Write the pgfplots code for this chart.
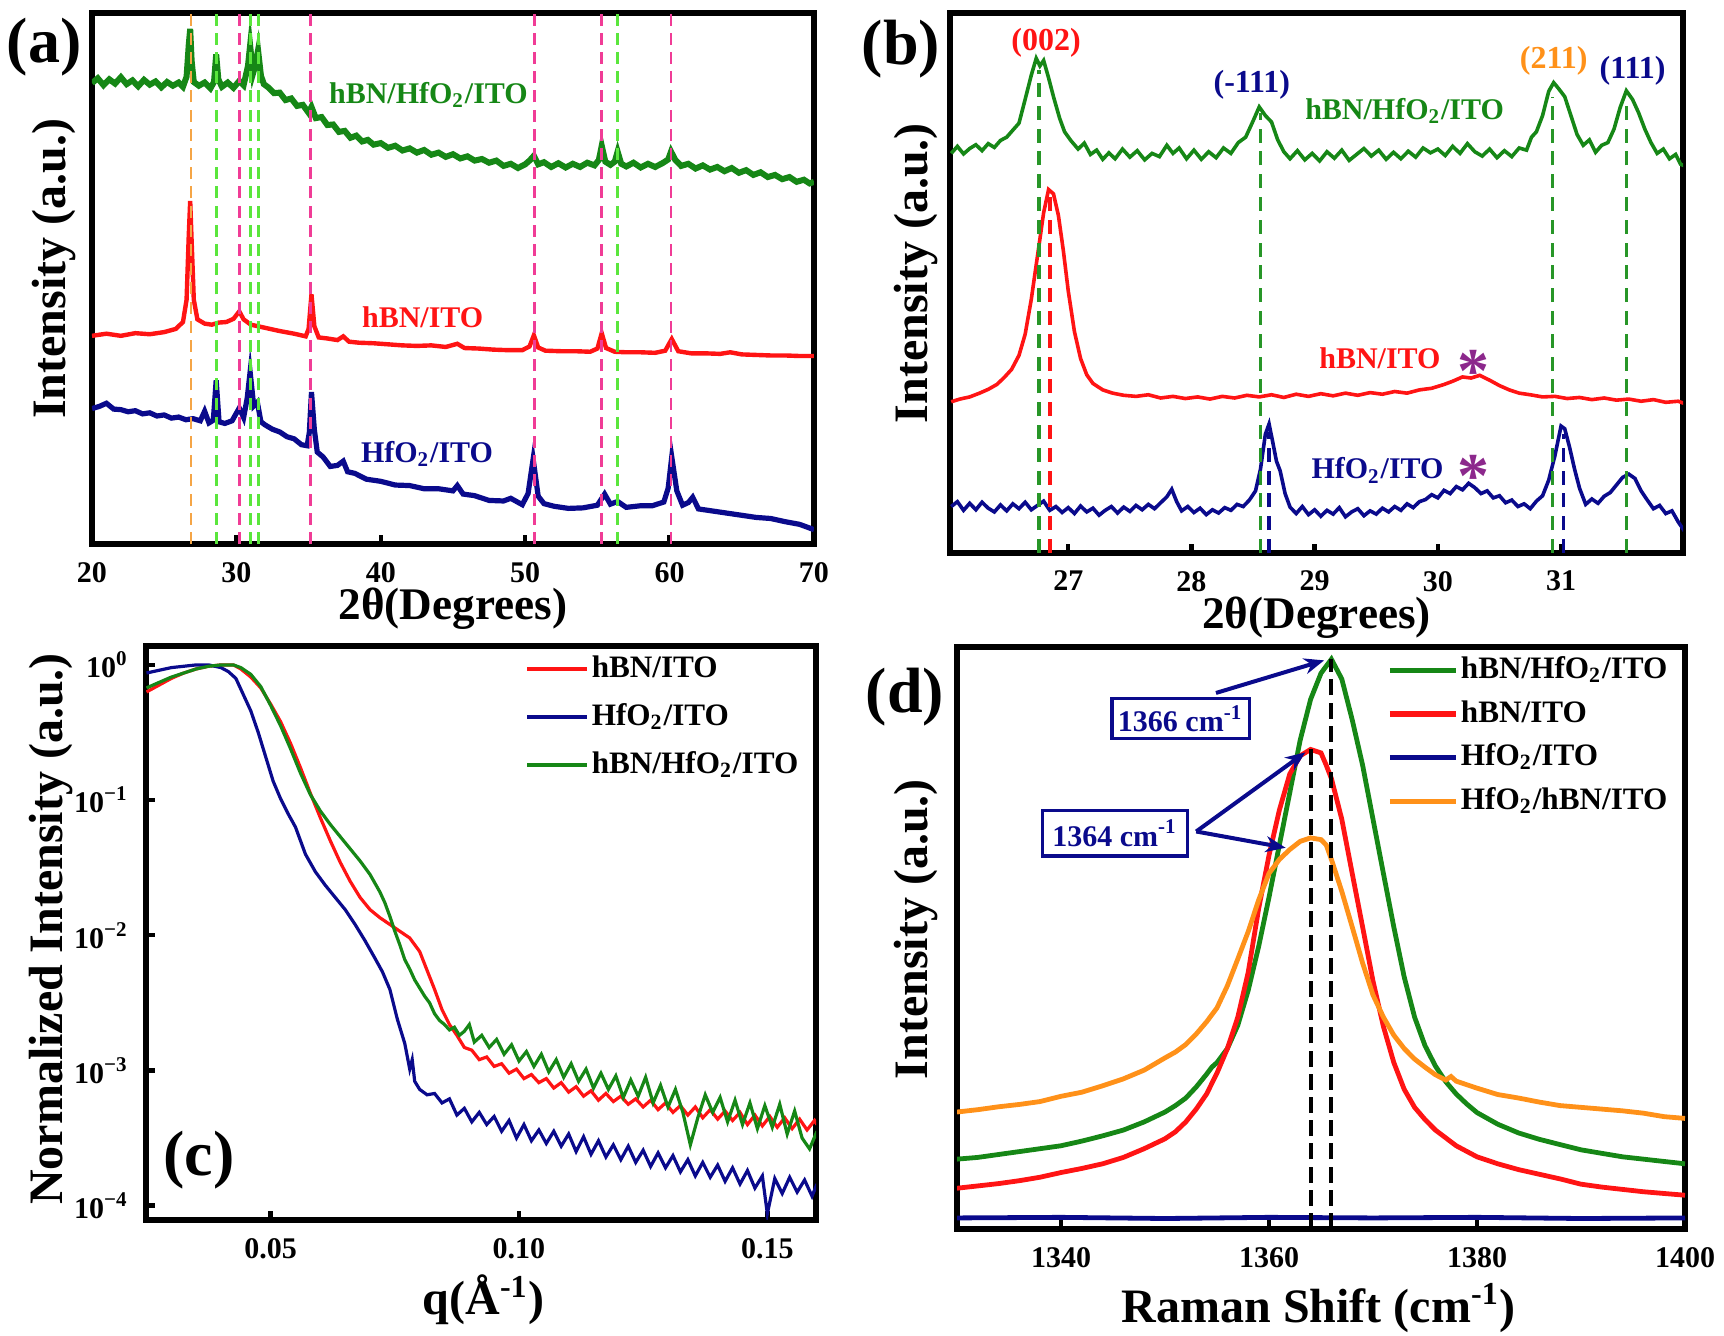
\documentclass[border=0pt]{standalone}
\usepackage{fontspec}
\setmainfont{Liberation Serif}
\usepackage{pgfplots}
\pgfplotsset{compat=1.18}
\usetikzlibrary{arrows.meta}

\definecolor{cgreen}{RGB}{22,135,22}
\definecolor{cred}{RGB}{255,20,20}
\definecolor{cnavy}{RGB}{10,10,140}
\definecolor{corange}{RGB}{255,145,25}
\definecolor{dorange}{RGB}{245,165,70}
\definecolor{dlime}{RGB}{90,230,60}
\definecolor{dpink}{RGB}{240,60,150}
\definecolor{dgreen}{RGB}{40,150,40}
\definecolor{cpurple}{RGB}{140,40,140}

\newcommand\anno{\bfseries\fontsize{7.5}{9}\selectfont}
\newcommand\hkl{\bfseries\fontsize{8}{9}\selectfont}
\newcommand\plab{\bfseries\fontsize{16}{18}\selectfont}

\pgfplotsset{
  panel/.style={
    scale only axis,
    anchor=south west,
    axis line style={line width=1.4pt},
    every tick/.style={black, line width=1.1pt},
    major tick length=2.2pt,
    tick align=inside,
    xtick pos=bottom, ytick pos=left,
    enlargelimits=false,
    tick label style={font=\bfseries\fontsize{7.5}{9}\selectfont},
    xticklabel style={yshift=-1pt},
    label style={font=\bfseries\fontsize{12}{14}\selectfont},
    /pgf/number format/assume math mode=true,
    /pgf/number format/set thousands separator={},
  },
  vline/.style={forget plot, line width=0.7pt, dash pattern=on 3pt off 1.8pt},
}

\begin{document}
\begin{tikzpicture}
\path[use as bounding box] (0,0) rectangle (431pt,334pt);

% ---------------- (a) XRD wide scan ----------------
\begin{axis}[panel, at={(23pt,198pt)}, width=180.5pt, height=132.75pt,
  xmin=20, xmax=70, ymin=0, ymax=100,
  xtick={20,30,...,70}, ytick=\empty,
  xlabel={2θ(Degrees)}, ylabel={Intensity (a.u.)},
  xlabel style={font=\bfseries\fontsize{11.3}{13}\selectfont, at={(axis description cs:0.5,-0.122)}, anchor=center},
  ylabel style={at={(axis description cs:-0.052,0.518)}, anchor=center}]
\addplot[cgreen, line width=1.5pt] table {
20.0 86.8
20.4 87.7
20.8 86.4
21.2 87.5
21.6 86.7
22.0 87.9
22.4 86.6
22.8 87.3
23.2 86.2
23.6 87.4
24.0 86.5
24.4 87.1
24.8 86.0
25.2 87.0
25.6 86.3
26.0 86.9
26.3 86.1
26.55 88.0
26.7 94.0
26.8 97.0
26.9 91.0
27.05 87.0
27.4 86.3
27.8 86.9
28.2 85.8
28.45 87.0
28.6 92.2
28.75 87.5
29.0 86.1
29.4 86.9
29.8 85.9
30.2 87.2
30.5 86.4
30.8 90.0
30.95 93.9
31.15 88.6
31.3 90.0
31.5 93.0
31.7 88.2
31.9 86.6
32.2 86.0
32.6 84.9
33.0 85.0
33.4 83.6
33.8 83.9
34.2 82.5
34.6 82.7
35.0 81.2
35.2 82.3
35.5 80.2
35.9 80.4
36.3 78.9
36.7 79.0
37.1 77.6
37.5 77.8
37.9 76.5
38.3 76.9
38.7 75.8
39.1 76.1
39.5 75.2
40.0 75.5
40.5 74.6
41.0 75.0
41.5 74.1
42.0 74.5
42.5 73.7
43.0 74.2
43.5 73.3
44.0 73.7
44.5 72.9
45.0 73.4
45.5 72.6
46.0 73.0
46.5 72.2
47.0 72.5
47.5 71.8
48.0 72.2
48.5 71.2
49.0 71.6
49.5 70.8
50.0 71.5
50.3 72.2
50.6 73.1
50.9 71.5
51.3 71.9
51.8 71.0
52.3 71.7
52.8 70.9
53.3 71.6
53.8 71.0
54.3 71.8
54.8 71.3
55.1 72.3
55.3 75.0
55.55 72.0
55.9 71.4
56.2 72.0
56.4 73.9
56.65 71.6
57.0 71.1
57.5 71.8
58.0 70.9
58.5 71.6
59.0 71.0
59.5 71.7
59.9 72.4
60.1 73.9
60.4 72.3
60.8 71.2
61.3 71.6
61.8 70.7
62.3 71.3
62.8 70.5
63.3 71.0
63.8 70.2
64.3 70.8
64.8 69.9
65.3 70.4
65.8 69.5
66.3 70.0
66.8 69.1
67.3 69.5
67.8 68.7
68.3 69.1
68.8 68.2
69.3 68.6
69.7 67.9
70.0 68.2
};
\addplot[cred, line width=1.1pt] table {
20.0 39.2
21.0 39.6
22.0 39.2
23.0 39.7
24.0 39.5
25.0 39.9
25.8 40.5
26.3 41.8
26.55 46.0
26.7 58.0
26.8 64.6
26.9 57.0
27.05 46.0
27.3 42.3
27.8 41.5
28.3 41.3
28.8 41.7
29.3 41.8
29.8 42.4
30.2 43.8
30.5 42.3
31.0 41.3
31.5 41.0
32.0 40.7
33.0 40.1
34.0 39.6
34.8 39.1
35.0 40.5
35.2 47.0
35.4 41.0
35.7 38.9
36.3 38.7
37.0 38.4
37.4 39.1
37.8 38.1
38.5 37.9
39.5 37.8
40.5 37.6
41.5 37.4
42.5 37.3
43.5 37.4
44.5 37.1
45.3 37.7
45.8 36.9
46.8 36.8
47.8 36.6
48.8 36.5
49.8 36.5
50.3 37.2
50.6 39.3
50.9 37.0
51.4 36.4
52.5 36.3
53.5 36.3
54.5 36.2
55.0 36.8
55.3 39.7
55.6 36.9
56.2 36.2
57.0 36.1
58.0 36.1
59.0 36.0
59.7 36.4
60.15 38.6
60.6 36.3
61.5 35.9
62.5 35.9
63.5 35.8
64.2 36.1
65.0 35.7
66.0 35.6
67.0 35.5
68.0 35.5
69.0 35.4
70.0 35.4
};
\addplot[cnavy, line width=1.3pt] table {
20.0 25.5
20.5 25.9
21.0 26.5
21.5 25.4
22.0 25.3
22.5 24.9
23.0 25.1
23.5 24.5
24.0 24.7
24.5 24.1
25.0 24.3
25.5 23.7
26.0 23.9
26.5 23.4
27.0 23.6
27.5 23.2
27.8 25.0
28.1 22.8
28.4 23.3
28.6 30.8
28.8 23.0
29.2 22.7
29.7 23.2
30.2 25.6
30.5 23.8
30.75 27.5
30.95 32.4
31.2 26.0
31.45 26.7
31.7 23.0
32.0 22.4
32.5 21.6
33.0 21.1
33.5 20.2
34.0 19.8
34.5 18.7
34.9 18.5
35.05 21.0
35.2 28.6
35.4 21.5
35.6 17.3
36.0 16.4
36.5 14.6
37.0 14.8
37.4 15.6
37.7 13.6
38.2 13.3
39.0 12.2
40.0 11.8
41.0 11.1
42.0 11.0
43.0 10.4
44.0 10.4
45.0 10.0
45.3 11.0
45.7 9.4
46.5 9.1
47.5 8.2
48.5 8.1
49.0 8.6
49.8 7.4
50.2 9.5
50.55 16.0
50.9 9.0
51.3 7.6
52.0 7.1
53.0 6.7
54.0 6.8
55.0 7.3
55.5 9.4
55.9 7.5
56.4 8.0
57.0 6.9
58.0 7.2
58.8 7.2
59.6 7.9
59.9 10.5
60.15 16.4
60.5 10.0
60.9 7.3
61.3 7.8
61.6 8.8
62.0 6.6
63.0 6.2
64.0 5.8
65.0 5.4
66.0 5.0
67.0 4.8
68.0 4.2
69.0 3.7
70.0 2.7
};
% reference peak positions
\addplot[vline, dorange] coordinates {(26.85,0) (26.85,100)};
\addplot[vline, dlime] coordinates {(28.6,0) (28.6,100)};
\addplot[vline, dlime] coordinates {(31.0,0) (31.0,100)};
\addplot[vline, dlime] coordinates {(31.55,0) (31.55,100)};
\addplot[vline, dlime] coordinates {(56.4,0) (56.4,100)};
\addplot[vline, dpink] coordinates {(30.2,0) (30.2,100)};
\addplot[vline, dpink] coordinates {(35.15,0) (35.15,100)};
\addplot[vline, dpink] coordinates {(50.65,0) (50.65,100)};
\addplot[vline, dpink] coordinates {(55.3,0) (55.3,100)};
\addplot[vline, dpink] coordinates {(60.1,0) (60.1,100)};
\node[font=\anno, text=cgreen] at (axis cs:43.3,84.6) {hBN/HfO\textsubscript{2}/ITO};
\node[font=\anno, text=cred] at (axis cs:42.9,42.7) {hBN/ITO};
\node[font=\anno, text=cnavy] at (axis cs:43.2,16.9) {HfO\textsubscript{2}/ITO};
\end{axis}

% ---------------- (b) XRD zoom ----------------
\begin{axis}[panel, at={(237.5pt,195.75pt)}, width=183.25pt, height=135pt,
  xmin=26.04, xmax=31.99, ymin=0, ymax=100,
  xtick={27,28,...,31}, ytick=\empty,
  xlabel={2θ(Degrees)}, ylabel={Intensity (a.u.)},
  xlabel style={font=\bfseries\fontsize{11.3}{13}\selectfont, at={(axis description cs:0.5,-0.12)}, anchor=center},
  ylabel style={at={(axis description cs:-0.046,0.518)}, anchor=center}]
\addplot[cgreen, line width=0.9pt] table {
26.05 74.0
26.10 75.3
26.15 73.9
26.20 74.9
26.25 75.6
26.30 74.5
26.35 75.8
26.40 75.1
26.45 76.4
26.50 77.0
26.55 78.3
26.60 79.6
26.65 84.0
26.70 88.5
26.74 91.6
26.77 90.2
26.80 91.2
26.84 88.0
26.88 84.5
26.93 80.5
26.97 78.0
27.02 76.4
27.08 74.8
27.13 75.9
27.18 73.8
27.23 74.6
27.28 72.9
27.33 74.1
27.38 73.0
27.44 74.8
27.50 73.3
27.56 74.5
27.62 72.8
27.68 74.0
27.74 73.4
27.80 75.5
27.85 74.0
27.90 75.0
27.96 73.0
28.02 74.6
28.08 72.9
28.14 74.3
28.20 73.2
28.26 75.0
28.32 74.0
28.38 76.0
28.44 77.0
28.50 80.0
28.55 82.6
28.60 81.0
28.65 79.8
28.70 76.5
28.75 74.3
28.80 73.0
28.86 74.5
28.92 72.8
28.98 74.0
29.04 72.6
29.10 74.3
29.16 73.1
29.22 74.6
29.28 72.7
29.34 73.8
29.40 74.9
29.46 73.5
29.52 74.6
29.58 72.9
29.64 74.2
29.70 73.0
29.76 74.4
29.82 73.3
29.88 75.0
29.94 74.1
30.00 74.8
30.06 73.6
30.12 75.3
30.18 74.0
30.24 75.8
30.30 74.3
30.36 73.5
30.42 74.8
30.48 73.2
30.54 74.5
30.60 73.4
30.66 75.0
30.72 74.6
30.76 77.0
30.80 78.0
30.85 81.0
30.90 85.5
30.94 87.1
30.98 86.0
31.03 84.5
31.08 81.0
31.13 77.5
31.18 75.5
31.23 76.5
31.28 74.2
31.33 75.5
31.38 76.0
31.43 78.5
31.48 82.5
31.53 85.6
31.58 84.0
31.63 81.5
31.68 78.5
31.73 76.0
31.78 74.0
31.83 74.8
31.88 73.0
31.93 73.8
31.97 72.0
32.00 71.7
};
\addplot[cred, line width=0.9pt] table {
26.05 28.0
26.12 28.5
26.20 28.9
26.28 29.6
26.35 30.3
26.42 31.2
26.48 32.5
26.54 34.0
26.60 36.6
26.65 40.5
26.70 47.0
26.75 55.0
26.80 63.0
26.84 67.3
26.88 66.5
26.92 62.5
26.96 56.0
27.00 48.5
27.05 41.0
27.10 36.0
27.15 33.0
27.20 31.4
27.28 30.2
27.36 29.6
27.45 29.2
27.55 29.0
27.65 29.3
27.75 28.7
27.85 29.0
27.95 28.6
28.05 28.9
28.15 28.5
28.25 29.0
28.35 28.7
28.45 29.2
28.55 28.9
28.65 29.3
28.75 28.8
28.85 29.4
28.95 29.0
29.05 29.5
29.15 29.1
29.25 29.6
29.35 29.2
29.45 29.7
29.55 29.4
29.65 29.9
29.75 29.6
29.85 30.2
29.95 30.5
30.05 31.2
30.12 31.8
30.20 32.6
30.27 32.4
30.34 32.9
30.42 32.0
30.50 31.0
30.58 30.2
30.66 29.6
30.75 29.3
30.85 28.9
30.95 29.0
31.05 28.6
31.15 28.8
31.25 28.4
31.35 28.7
31.45 28.3
31.55 28.5
31.65 28.1
31.75 28.4
31.85 27.9
31.95 28.1
32.00 27.7
};
\addplot[cnavy, line width=0.9pt] table {
26.05 8.6
26.10 9.5
26.15 7.9
26.20 9.2
26.25 8.0
26.30 9.4
26.35 8.3
26.40 7.6
26.45 8.9
26.50 7.8
26.55 9.1
26.60 8.2
26.65 9.4
26.70 8.0
26.75 8.8
26.80 9.6
26.85 7.9
26.90 8.6
26.95 7.5
27.00 8.4
27.05 7.3
27.10 8.7
27.15 7.6
27.20 8.3
27.25 7.0
27.30 7.9
27.35 8.6
27.40 7.4
27.45 8.5
27.50 7.7
27.55 8.8
27.60 8.0
27.65 9.0
27.70 8.2
27.75 9.3
27.80 10.4
27.84 11.8
27.88 9.5
27.92 7.8
27.97 8.6
28.02 7.5
28.07 8.3
28.12 7.1
28.17 8.0
28.22 7.4
28.27 8.4
28.32 7.9
28.37 9.0
28.42 8.6
28.47 9.8
28.52 11.5
28.56 15.5
28.60 22.0
28.63 23.9
28.66 20.5
28.69 17.0
28.72 15.2
28.76 11.0
28.80 8.5
28.85 7.3
28.90 8.6
28.95 7.1
29.00 8.0
29.05 6.8
29.10 7.9
29.15 7.2
29.20 8.4
29.25 6.7
29.30 7.6
29.35 8.2
29.40 6.9
29.45 7.8
29.50 7.2
29.55 8.3
29.60 7.6
29.65 8.6
29.70 7.9
29.75 9.1
29.80 8.4
29.85 9.5
29.90 9.9
29.95 10.8
30.00 10.2
30.05 11.6
30.10 11.0
30.15 12.3
30.20 11.7
30.25 12.9
30.30 12.1
30.35 11.0
30.40 11.5
30.45 10.2
30.50 10.6
30.55 9.3
30.60 9.8
30.65 8.6
30.70 9.1
30.75 8.2
30.80 9.6
30.85 10.6
30.90 13.5
30.95 18.0
31.00 23.5
31.03 23.0
31.07 19.5
31.11 15.5
31.15 12.0
31.20 9.0
31.25 10.0
31.30 9.2
31.35 10.5
31.40 11.2
31.45 12.6
31.50 14.0
31.55 14.6
31.60 13.8
31.65 11.5
31.70 9.8
31.75 8.2
31.80 8.8
31.85 7.3
31.90 7.8
31.95 5.8
32.00 4.1
};
\pgfplotsset{vline/.append style={line width=0.9pt, dash pattern=on 3.5pt off 2.2pt}}
\addplot[vline, dgreen] coordinates {(26.76,0) (26.76,89.5)};
\addplot[vline, dgreen] coordinates {(28.56,0) (28.56,81.5)};
\addplot[vline, dgreen] coordinates {(30.93,0) (30.93,84.5)};
\addplot[vline, dgreen] coordinates {(31.53,0) (31.53,83.7)};
\addplot[vline, cred] coordinates {(26.85,0) (26.85,66.5)};
\addplot[vline, cnavy] coordinates {(28.63,0) (28.63,22.4)};
\addplot[vline, cnavy] coordinates {(31.02,0) (31.02,22.0)};
\node[font=\hkl, text=cred] at (axis cs:26.82,94.5) {(002)};
\node[font=\hkl, text=cnavy] at (axis cs:28.49,86.7) {(-111)};
\node[font=\hkl, text=corange] at (axis cs:30.94,91.2) {(211)};
\node[font=\hkl, text=cnavy] at (axis cs:31.58,89.3) {(111)};
\node[font=\anno, text=cgreen] at (axis cs:29.73,81.8) {hBN/HfO\textsubscript{2}/ITO};
\node[font=\anno, text=cred] at (axis cs:29.53,36.0) {hBN/ITO};
\node[font=\anno, text=cnavy] at (axis cs:29.51,15.3) {HfO\textsubscript{2}/ITO};
\node[font=\bfseries\fontsize{16}{16}\selectfont, text=cpurple, inner sep=0pt, yshift=-3pt] at (axis cs:30.29,35.9) {*};
\node[font=\bfseries\fontsize{16}{16}\selectfont, text=cpurple, inner sep=0pt, yshift=-3pt] at (axis cs:30.29,16.4) {*};
\end{axis}

% ---------------- (c) XRR ----------------
\begin{axis}[panel, at={(36.5pt,29pt)}, width=167.5pt, height=143.5pt,
  xmin=0.0249, xmax=0.1598, ymin=-4.106, ymax=0.14,
  xtick={0.05,0.10,0.15},
  xticklabel style={/pgf/number format/.cd, fixed, fixed zerofill, precision=2},
  ytick={-4,-3,-2,-1,0},
  yticklabels={10\textsuperscript{−4},10\textsuperscript{−3},10\textsuperscript{−2},10\textsuperscript{−1},10\textsuperscript{0}},
  yticklabel style={xshift=-0.8pt},
  xlabel={q(Å\textsuperscript{-1})}, ylabel={Normalized Intensity (a.u.)},
  xlabel style={at={(axis description cs:0.504,-0.139)}, anchor=center},
  ylabel style={at={(axis description cs:-0.142,0.507)}, anchor=center},
  legend style={at={(axis description cs:0.565,0.99)}, anchor=north west,
    draw=none, fill=none, inner sep=0pt, row sep=3.6pt,
    font=\bfseries\fontsize{7.8}{9}\selectfont,
    nodes={inner sep=0.6pt, text height=5.6pt, text depth=1.6pt}},
  legend cell align=left,
  legend image code/.code={\draw[#1, line width=1pt] (0pt,0pt) -- (15pt,0pt);}]
\addplot[cred, line width=0.8pt] table {
0.025 -0.20
0.0275 -0.15
0.030 -0.10
0.0325 -0.06
0.035 -0.03
0.0375 -0.01
0.040 0.00
0.0425 0.00
0.044 -0.03
0.046 -0.09
0.048 -0.17
0.050 -0.29
0.052 -0.42
0.054 -0.58
0.056 -0.76
0.058 -0.95
0.060 -1.13
0.062 -1.30
0.064 -1.46
0.066 -1.60
0.068 -1.72
0.070 -1.81
0.072 -1.87
0.074 -1.92
0.076 -1.97
0.078 -2.02
0.080 -2.12
0.0815 -2.26
0.083 -2.40
0.0845 -2.55
0.086 -2.66
0.0875 -2.74
0.089 -2.83
0.0905 -2.85
0.092 -2.92
0.0935 -2.90
0.095 -2.97
0.0965 -2.95
0.098 -3.02
0.0995 -2.99
0.101 -3.06
0.1025 -3.03
0.104 -3.09
0.1055 -3.06
0.107 -3.13
0.1085 -3.09
0.110 -3.16
0.1115 -3.12
0.113 -3.19
0.1145 -3.15
0.116 -3.22
0.1175 -3.17
0.119 -3.23
0.1205 -3.19
0.122 -3.25
0.1235 -3.21
0.125 -3.27
0.1265 -3.22
0.128 -3.29
0.1295 -3.24
0.131 -3.31
0.1325 -3.26
0.134 -3.33
0.1355 -3.27
0.137 -3.35
0.1385 -3.29
0.140 -3.36
0.1415 -3.30
0.143 -3.37
0.1445 -3.31
0.146 -3.40
0.1475 -3.33
0.149 -3.41
0.1505 -3.34
0.152 -3.42
0.1535 -3.35
0.155 -3.43
0.1565 -3.36
0.158 -3.44
0.1595 -3.37
0.160 -3.40
};
\addlegendentry{hBN/ITO}
\addplot[cnavy, line width=0.8pt] table {
0.025 -0.06
0.0275 -0.04
0.030 -0.02
0.0325 -0.01
0.035 0.00
0.0375 0.00
0.040 -0.02
0.0415 -0.05
0.043 -0.10
0.0445 -0.22
0.046 -0.34
0.0475 -0.50
0.049 -0.68
0.0505 -0.86
0.052 -0.99
0.0535 -1.10
0.055 -1.20
0.057 -1.40
0.059 -1.53
0.061 -1.63
0.063 -1.72
0.065 -1.81
0.067 -1.92
0.069 -2.04
0.071 -2.17
0.0725 -2.27
0.074 -2.40
0.0755 -2.62
0.077 -2.80
0.078 -2.99
0.0785 -2.92
0.079 -3.08
0.080 -3.14
0.0815 -3.18
0.083 -3.17
0.0845 -3.24
0.086 -3.21
0.0875 -3.33
0.089 -3.28
0.0905 -3.38
0.092 -3.31
0.0935 -3.40
0.095 -3.34
0.0965 -3.45
0.098 -3.37
0.0995 -3.50
0.101 -3.40
0.1025 -3.52
0.104 -3.44
0.1055 -3.54
0.107 -3.45
0.1085 -3.56
0.110 -3.47
0.1115 -3.60
0.113 -3.49
0.1145 -3.62
0.116 -3.52
0.1175 -3.64
0.119 -3.55
0.1205 -3.66
0.122 -3.56
0.1235 -3.68
0.125 -3.59
0.1265 -3.71
0.128 -3.61
0.1295 -3.72
0.131 -3.63
0.1325 -3.75
0.134 -3.66
0.1355 -3.78
0.137 -3.68
0.1385 -3.79
0.140 -3.70
0.1415 -3.82
0.143 -3.72
0.1445 -3.84
0.146 -3.74
0.1475 -3.87
0.149 -3.78
0.150 -4.06
0.1515 -3.80
0.153 -3.91
0.1545 -3.79
0.156 -3.90
0.1575 -3.81
0.159 -3.93
0.160 -3.84
};
\addlegendentry{HfO\textsubscript{2}/ITO}
\addplot[cgreen, line width=0.8pt] table {
0.025 -0.17
0.0275 -0.13
0.030 -0.09
0.0325 -0.06
0.035 -0.03
0.0375 -0.01
0.040 0.00
0.0425 0.00
0.044 -0.02
0.046 -0.07
0.048 -0.16
0.050 -0.30
0.052 -0.45
0.054 -0.62
0.056 -0.80
0.058 -0.96
0.060 -1.08
0.062 -1.18
0.064 -1.27
0.066 -1.36
0.068 -1.45
0.070 -1.55
0.072 -1.68
0.073 -1.76
0.074 -1.86
0.075 -1.97
0.076 -2.07
0.077 -2.18
0.078 -2.25
0.079 -2.33
0.080 -2.39
0.081 -2.45
0.082 -2.50
0.083 -2.58
0.084 -2.63
0.085 -2.66
0.086 -2.70
0.087 -2.68
0.088 -2.74
0.089 -2.71
0.090 -2.66
0.091 -2.79
0.0925 -2.74
0.094 -2.83
0.0955 -2.77
0.097 -2.88
0.0985 -2.81
0.100 -2.93
0.1015 -2.86
0.103 -2.97
0.1045 -2.88
0.106 -3.01
0.1075 -2.92
0.109 -3.05
0.1105 -2.95
0.112 -3.08
0.1135 -2.99
0.115 -3.13
0.1165 -3.02
0.118 -3.14
0.1195 -3.04
0.121 -3.20
0.1225 -3.07
0.124 -3.19
0.1255 -3.05
0.127 -3.24
0.1285 -3.11
0.130 -3.27
0.1315 -3.14
0.133 -3.31
0.1345 -3.55
0.136 -3.35
0.1375 -3.18
0.139 -3.31
0.1405 -3.20
0.142 -3.38
0.1435 -3.22
0.145 -3.40
0.1465 -3.24
0.148 -3.43
0.1495 -3.26
0.151 -3.42
0.1525 -3.25
0.154 -3.47
0.1555 -3.30
0.157 -3.50
0.1585 -3.58
0.160 -3.45
};
\addlegendentry{hBN/HfO\textsubscript{2}/ITO}
\end{axis}

% ---------------- (d) Raman ----------------
\begin{axis}[panel, at={(239.25pt,26.75pt)}, width=182pt, height=145.5pt,
  xmin=1330, xmax=1400, ymin=0, ymax=100,
  xtick={1340,1360,1380,1400}, ytick=\empty,
  xlabel={Raman Shift (cm\textsuperscript{-1})}, ylabel={Intensity (a.u.)},
  xlabel style={at={(axis description cs:0.497,-0.136)}, anchor=center},
  ylabel style={at={(axis description cs:-0.056,0.515)}, anchor=center},
  legend style={at={(axis description cs:0.59,0.99)}, anchor=north west,
    draw=none, fill=none, inner sep=0pt, row sep=2.5pt,
    font=\bfseries\fontsize{7.8}{9}\selectfont,
    nodes={inner sep=0.6pt, text height=5.6pt, text depth=1.6pt}},
  legend cell align=left,
  legend image code/.code={\draw[#1, line width=1.3pt] (0pt,0pt) -- (16.5pt,0pt);}]
\addplot[cgreen, line width=1.2pt] table {
1330 12.0
1332 12.3
1334 12.8
1336 13.3
1338 13.8
1340 14.3
1342 15.1
1344 16.0
1346 17.0
1348 18.4
1350 20.1
1351 21.2
1352 22.5
1353 24.4
1354 26.6
1354.5 27.8
1355 28.6
1356 31.0
1357 35.0
1358 41.0
1359 48.5
1360 57.0
1361 66.0
1362 75.0
1363 84.0
1364 91.0
1365 95.5
1366 97.9
1367 94.5
1368 87.5
1369 79.7
1370 70.4
1371 61.1
1372 51.9
1373 43.3
1374 36.4
1375 31.5
1376 28.0
1377 25.3
1378 23.2
1379 21.5
1380 20.0
1382 18.0
1384 16.5
1386 15.4
1388 14.5
1390 13.6
1392 13.0
1394 12.4
1396 12.0
1398 11.6
1400 11.2
};
\addlegendentry{hBN/HfO\textsubscript{2}/ITO}
\addplot[cred, line width=1.2pt] table {
1330 7.0
1332 7.4
1334 7.8
1336 8.3
1338 8.9
1340 9.7
1342 10.4
1344 11.2
1346 12.3
1348 13.8
1350 15.5
1351 16.7
1352 18.4
1353 20.6
1354 23.2
1355 26.8
1356 31.0
1357 36.4
1358 44.1
1359 55.0
1360 64.2
1361 72.0
1362 78.2
1363 81.3
1364 82.4
1365 81.8
1365.5 79.7
1366 77.4
1367 70.4
1368 61.1
1369 51.9
1370 42.6
1371 34.8
1372 28.6
1373 24.0
1374 20.9
1375 18.8
1376 17.0
1378 14.3
1380 12.4
1382 11.2
1384 10.2
1386 9.4
1388 8.6
1390 7.7
1392 7.2
1394 6.8
1396 6.4
1398 6.1
1400 5.8
};
\addlegendentry{hBN/ITO}
\addplot[cnavy, line width=1.2pt] table {
1330 1.9
1340 2.0
1350 1.8
1360 2.0
1370 1.9
1380 2.0
1390 1.8
1400 1.9
};
\addlegendentry{HfO\textsubscript{2}/ITO}
\addplot[corange, line width=1.2pt] table {
1330 20.1
1332 20.5
1334 21.0
1336 21.4
1338 21.9
1340 22.8
1342 23.5
1344 24.6
1346 25.8
1348 27.3
1350 29.4
1351 30.4
1352 31.7
1353 33.5
1354 35.6
1355 38.0
1356 41.8
1357 46.4
1358 51.1
1359 56.5
1360 61.1
1361 63.5
1362 65.2
1363 66.6
1364 67.2
1365 66.9
1365.5 66.0
1366 63.5
1367 58.0
1368 51.9
1369 45.7
1370 40.2
1371 36.4
1372 33.3
1373 31.0
1374 29.2
1375 27.8
1376 26.5
1377 25.6
1377.5 26.2
1378 25.4
1380 24.2
1382 23.1
1384 22.5
1386 21.8
1388 21.2
1390 20.9
1392 20.6
1394 20.3
1396 19.9
1398 19.3
1400 19.0
};
\addlegendentry{HfO\textsubscript{2}/hBN/ITO}
\addplot[vline, black, line width=1pt, dash pattern=on 4pt off 1.8pt] coordinates {(1364,0) (1364,82.4)};
\addplot[vline, black, line width=1pt, dash pattern=on 4pt off 1.8pt] coordinates {(1366,0) (1366,97.9)};
\node[draw=cnavy, line width=0.8pt, text=cnavy, font=\anno, inner xsep=1.5pt, inner ysep=1.8pt] at (axis cs:1351.5,87.7) {1366 cm\textsuperscript{-1}};
\node[draw=cnavy, line width=0.8pt, text=cnavy, font=\anno, inner xsep=2.5pt, inner ysep=2.4pt] at (axis cs:1345.2,68.0) {1364 cm\textsuperscript{-1}};
\draw[cnavy, line width=1pt, -{Stealth[length=5pt,width=4pt]}] (axis cs:1354.9,92.1) -- (axis cs:1365.3,97.7);
\draw[cnavy, line width=1pt, -{Stealth[length=5pt,width=4pt]}] (axis cs:1353.0,68.3) -- (axis cs:1363.5,81.9);
\draw[cnavy, line width=1pt, -{Stealth[length=5pt,width=4pt]}] (axis cs:1353.0,68.3) -- (axis cs:1361.6,65.5);
\end{axis}

% panel letters
\node[font=\plab] at (11pt,322.25pt) {(a)};
\node[font=\plab] at (225.25pt,321.75pt) {(b)};
\node[font=\plab] at (49.75pt,44pt) {(c)};
\node[font=\plab] at (226.25pt,159.75pt) {(d)};
\end{tikzpicture}
\end{document}
